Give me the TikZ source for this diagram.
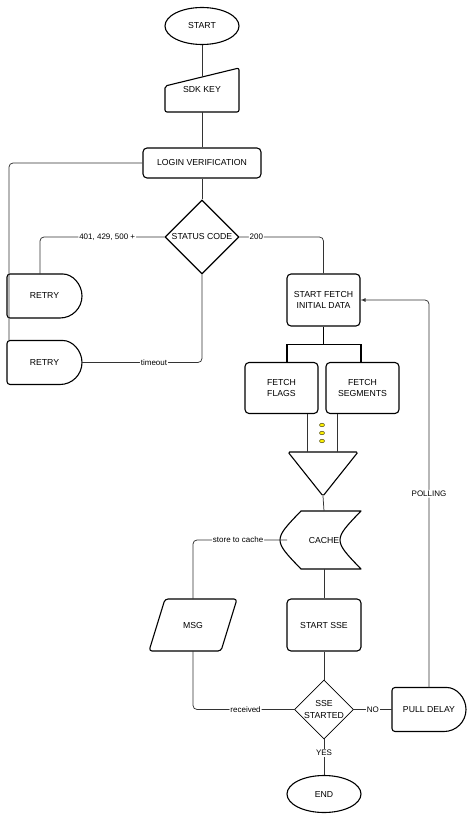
\documentclass[tikz,border=0pt]{standalone}
\usepackage{fontspec}
\setmainfont{Liberation Sans}
\usetikzlibrary{shapes.geometric,calc}

\newcommand{\flowfont}{\fontsize{8.7}{11.3}\selectfont}
\newcommand{\edgefont}{\fontsize{8}{10}\selectfont}

\begin{document}
\begin{tikzpicture}[x=1pt,y=-1pt,
    terminal/.style={ellipse, draw, line width=1.1pt, minimum width=74pt, minimum height=37pt, inner sep=0pt, font=\flowfont},
    process/.style={rectangle, draw, line width=1.1pt, rounded corners=4pt, minimum width=74pt, minimum height=52pt, inner sep=1pt, align=center, font=\flowfont},
    plain/.style={rectangle, minimum width=74pt, minimum height=44pt, inner sep=0pt, outer sep=0pt, align=center, font=\flowfont},
    decision/.style={diamond, draw, inner sep=0pt},
    outline/.style={line width=1.1pt, line join=round},
    link/.style={draw=black!80, line width=0.75pt, rounded corners=4pt},
    tag/.style={fill=white, inner sep=1pt, font=\edgefont},
    dot/.style={ellipse, draw=olive!60!black, fill=yellow, line width=0.6pt, minimum width=5pt, minimum height=3.5pt, inner sep=0pt}]
    \useasboundingbox (0,0) rectangle (474,821);

    % Flow nodes
    \node[terminal] (start) at (202,26) {START};
    \node[plain] (sdk) at (202,90) {SDK KEY};
    \node[process, minimum width=118pt, minimum height=30pt] (login) at (202,163) {LOGIN VERIFICATION};
    \node[decision, line width=1.1pt, minimum size=74pt, label={[font=\flowfont]center:STATUS CODE}] (status) at (202,237) {};
    \node[plain, minimum width=75pt] (retry1) at (44.5,296) {RETRY};
    \node[plain, minimum width=75pt] (retry2) at (44.5,362.5) {RETRY};
    \node[process, minimum width=73pt] (fetch) at (323.5,300) {START FETCH\\INITIAL DATA};
    \node[process, minimum width=73pt, minimum height=51pt] (flags) at (281.5,388) {FETCH\\FLAGS};
    \node[process, minimum width=73pt, minimum height=51pt] (segments) at (362.5,388) {FETCH\\SEGMENTS};
    \node[plain, minimum width=70pt] (merge) at (323,474) {};
    \node[plain, minimum height=58pt] (cache) at (324,540) {CACHE};
    \node[plain, minimum width=88pt, minimum height=52pt] (msg) at (193,625) {MSG};
    \node[process] (sse) at (324,625) {START SSE};
    \node[decision, line width=0.8pt, minimum size=59pt, label={[font=\flowfont, align=center]center:SSE\\STARTED}] (ssestarted) at (324,709.5) {};
    \node[plain] (pull) at (429,709.5) {PULL DELAY};
    \node[terminal] (end) at (324,794) {END};

    % Dots between fetch and merge
    \foreach \y [count=\i] in {425,433,441}
        \node[dot] (dot\i) at (322,\y) {};

    % Outlines of the special shapes
    \draw[outline, rounded corners=2pt] (sdk.south west) -- ($(sdk.north west)!0.41!(sdk.south west)$) -- (sdk.north east) -- (sdk.south east) -- cycle;
    \foreach \d in {retry1,retry2,pull}
        \draw[outline] ([xshift=-22pt]\d.north east) arc[start angle=90, end angle=-90, radius=22pt] [rounded corners=3pt] -- (\d.south west) -- (\d.north west) -- cycle;
    \draw[outline, rounded corners=1.5pt] (merge.north west) -- (merge.north east) -- (merge.south) -- cycle;
    \draw[outline] ([xshift=14pt]cache.north west) -- (cache.north east) .. controls ([xshift=-28pt]cache.east) .. (cache.south east) -- ([xshift=14pt]cache.south west) .. controls ([xshift=-14pt]cache.west) .. ([xshift=14pt]cache.north west) -- cycle;
    \draw[outline, rounded corners=3pt] (msg.south west) -- ([xshift=16pt]msg.north west) -- (msg.north east) -- ([xshift=-16pt]msg.south east) -- cycle;

    % Connectors
    \coordinate (sdktop) at ($(sdk.north)!0.2!(sdk.south)$);
    \draw[link] (start.south) -- (sdktop);
    \draw[link] (sdk.south) -- (login.north);
    \draw[link] (login.south) -- (status.north);
    \draw[link] (login.west) -| ([xshift=2pt]retry2.north west);
    \draw[link] (status.west) -| node[tag, pos=0.23] {401, 429, 500 +} ([xshift=-4.5pt]retry1.north);
    \draw[link] (status.east) -| node[tag, pos=0.1] {200} (fetch.north);
    \draw[link] (status.south) |- node[tag, pos=0.7] {timeout} (retry2.east);

    \draw[link, draw=black, line width=1.1pt, sharp corners] (fetch.south) -- ++(0,18) coordinate (split);
    \draw[link, draw=black, line width=1.1pt, sharp corners] ([xshift=5.5pt]flags.north) |- (split) -| ([xshift=-1.5pt]segments.north);
    \draw[link] ([xshift=25.5pt]flags.south) -- ([xshift=25.5pt]flags.south |- merge.north);
    \draw[link] ([xshift=-25.5pt]segments.south) -- ([xshift=-25.5pt]segments.south |- merge.north);

    \draw[link] (merge.south) -- (cache.north);
    \draw[link] (cache.west) -| node[tag, pos=0.26] {store to cache} (msg.north);
    \draw[link] (cache.south) -- (sse.north);
    \draw[link] (sse.south) -- (ssestarted.north);
    \draw[link] (msg.south) |- node[tag, pos=0.76] {received} (ssestarted.west);
    \draw[link] (ssestarted.east) -- node[tag] {NO} (pull.west);
    \draw[link] (ssestarted.south) -- node[tag, pos=0.38] {YES} (end.north);
    \draw[link, -latex] (pull.north) |- node[tag, pos=0.25] {POLLING} (fetch.east);

\end{tikzpicture}
\end{document}
